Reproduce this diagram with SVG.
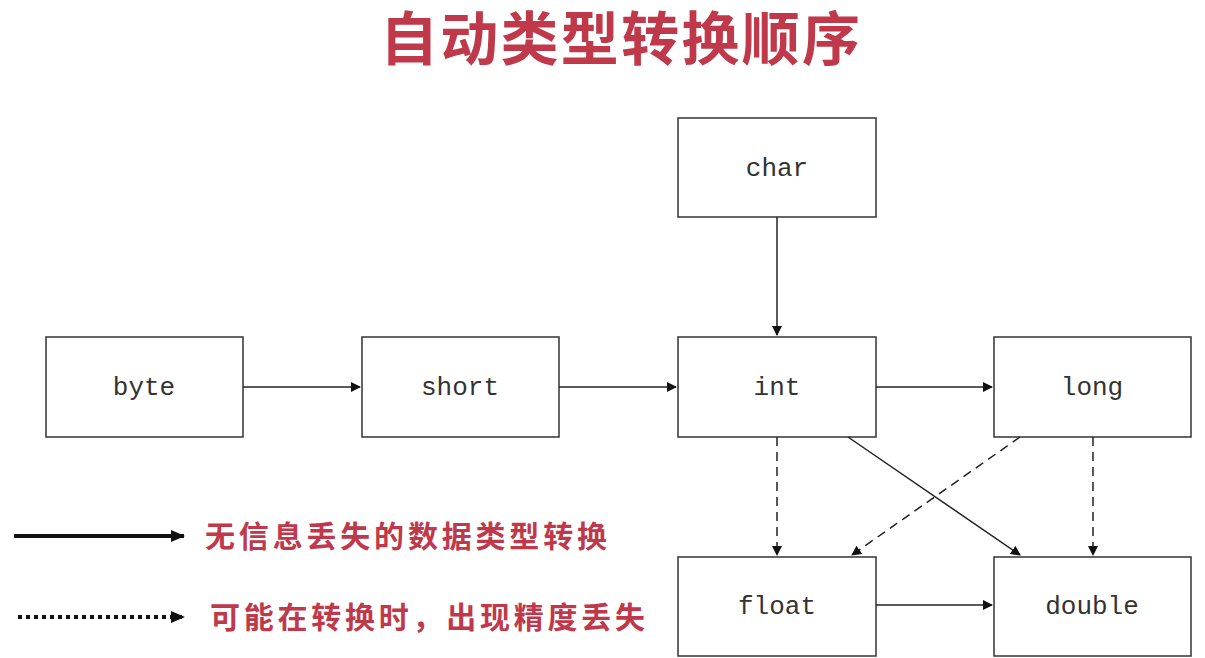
<svg xmlns="http://www.w3.org/2000/svg" width="1205" height="658" viewBox="0 0 1205 658">
<style>
.box{fill:#fff;stroke:#333;stroke-width:1.5}
.lbl{font-family:"Liberation Mono",monospace;font-size:26px;fill:#333;text-anchor:middle}
.ln{stroke:#222;stroke-width:1.5;fill:none}
.ds{stroke-dasharray:9,6}
.red{font-family:"Noto Sans CJK SC",sans-serif;font-weight:bold;fill:#c0394b}
</style>
<defs>
<marker id="a" markerWidth="10" markerHeight="10" refX="9" refY="5" orient="auto" markerUnits="userSpaceOnUse"><path d="M0,0 L10,5 L0,10 z" fill="#111"/></marker>
<marker id="b" markerWidth="14" markerHeight="14" refX="13" refY="7" orient="auto" markerUnits="userSpaceOnUse"><path d="M0,1 L14,7 L0,13 z" fill="#111"/></marker>
</defs>
<rect width="1205" height="658" fill="#fff"/>
<text class="red" x="380" y="60" font-size="58" textLength="480">自动类型转换顺序</text>
<g id="byte"><rect class="box" x="46" y="337" width="197" height="100"/><text class="lbl" x="144" y="395">byte</text></g>
<g id="short"><rect class="box" x="362" y="337" width="197" height="100"/><text class="lbl" x="460" y="395">short</text></g>
<g id="int"><rect class="box" x="678" y="337" width="198" height="100"/><text class="lbl" x="777" y="395">int</text></g>
<g id="long"><rect class="box" x="994" y="337" width="197" height="100"/><text class="lbl" x="1092" y="395">long</text></g>
<g id="char"><rect class="box" x="678" y="118" width="198" height="99"/><text class="lbl" x="777" y="176">char</text></g>
<g id="float"><rect class="box" x="678" y="557" width="198" height="99"/><text class="lbl" x="777" y="614">float</text></g>
<g id="double"><rect class="box" x="994" y="557" width="197" height="99"/><text class="lbl" x="1092" y="614">double</text></g>
<g id="connectors">
<line class="ln" x1="243" y1="387" x2="360" y2="387" marker-end="url(#a)"/>
<line class="ln" x1="559" y1="387" x2="676" y2="387" marker-end="url(#a)"/>
<line class="ln" x1="876" y1="387" x2="992" y2="387" marker-end="url(#a)"/>
<line class="ln" x1="777" y1="217" x2="777" y2="335" marker-end="url(#a)"/>
<line class="ln ds" x1="777" y1="437" x2="777" y2="555" marker-end="url(#a)"/>
<line class="ln ds" x1="1093" y1="437" x2="1093" y2="555" marker-end="url(#a)"/>
<line class="ln ds" x1="1020" y1="437" x2="852" y2="555" marker-end="url(#a)"/>
<line class="ln" x1="848" y1="437" x2="1020" y2="555" marker-end="url(#a)"/>
<line class="ln" x1="876" y1="605" x2="992" y2="605" marker-end="url(#a)"/>
<line stroke="#111" stroke-width="4" x1="14" y1="536" x2="184" y2="536" marker-end="url(#b)"/>
<line stroke="#111" stroke-width="4" stroke-dasharray="4,4" x1="18" y1="617" x2="184" y2="617" marker-end="url(#b)"/>
</g>
<text class="red" x="205" y="547" font-size="30" textLength="402">无信息丢失的数据类型转换</text>
<text class="red" x="210" y="628" font-size="30" textLength="435">可能在转换时，出现精度丢失</text>
</svg>
